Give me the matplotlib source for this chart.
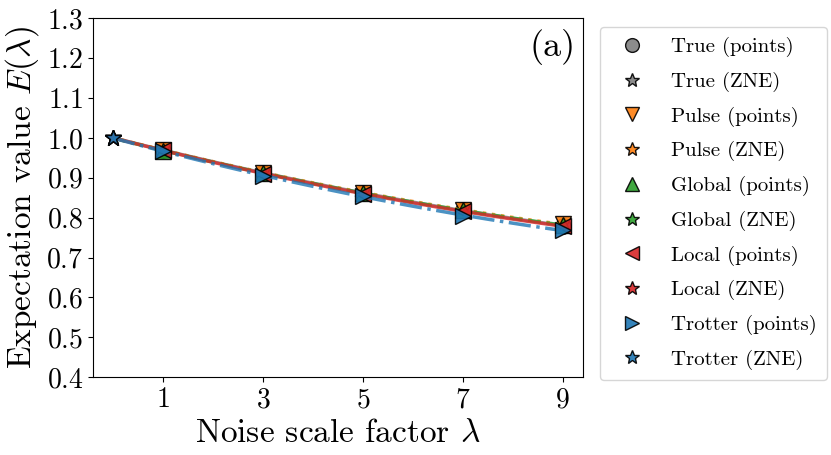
import numpy as np
import matplotlib
matplotlib.use("Agg")
import matplotlib.pyplot as plt

plt.rcParams['font.family'] = 'cmr10'
plt.rcParams['mathtext.fontset'] = 'cm'
plt.rcParams['axes.formatter.use_mathtext'] = True

lam = [1, 3, 5, 7, 9]
names = ["True", "Pulse", "Global", "Local", "Trotter"]
colors = ["gray", "tab:orange", "tab:green", "tab:red", "tab:blue"]
markers = ["o", "v", "^", "<", ">"]
styles = ["-", ":", "--", "-", "-."]
vals = {
    "True":    [0.970, 0.912, 0.862, 0.818, 0.780],
    "Pulse":   [0.970, 0.913, 0.863, 0.820, 0.783],
    "Global":  [0.968, 0.911, 0.862, 0.819, 0.781],
    "Local":   [0.969, 0.910, 0.860, 0.817, 0.778],
    "Trotter": [0.966, 0.905, 0.855, 0.805, 0.768],
}
zne = {"True": 1.0, "Pulse": 1.0, "Global": 1.0, "Local": 1.0, "Trotter": 1.0}

fig = plt.figure(figsize=(8.31, 4.55), dpi=100)
ax = fig.add_axes([0.112, 0.171, 0.589, 0.789])
xs = np.linspace(0, 9, 100)
for n, c, m, ls in zip(names, colors, markers, styles):
    x = np.array([0] + lam); y = np.array([zne[n]] + vals[n])
    p = np.polyfit(x, y, 2)
    ax.plot(xs, np.polyval(p, xs), ls, color=c, lw=2.5, alpha=0.8)
    ax.plot(lam, vals[n], m, color=c, ms=11, mec='k', mew=1, alpha=0.9, ls='none', label=f"{n} (points)")
    ax.plot([0], [zne[n]], '*', color=c, ms=12, mec='k', mew=1, alpha=0.9, ls='none', label=f"{n} (ZNE)")
ax.set_xlim(-0.4, 9.4)
ax.set_ylim(0.4, 1.3)
ax.set_xticks(lam)
ax.set_yticks(np.arange(0.4, 1.31, 0.1))
ax.tick_params(labelsize=20)
ax.set_xlabel(r"Noise scale factor $\lambda$", fontsize=24)
ax.set_ylabel(r"Expectation value $E(\lambda)$", fontsize=24)
ax.text(0.985, 0.97, "(a)", transform=ax.transAxes, ha='right', va='top', fontsize=26)
ax.legend(loc='upper left', bbox_to_anchor=(1.015, 1.005), fontsize=15, borderpad=0.5,
          labelspacing=0.7, handletextpad=0.9, markerscale=0.9)
fig.savefig("out.png", dpi=100)
